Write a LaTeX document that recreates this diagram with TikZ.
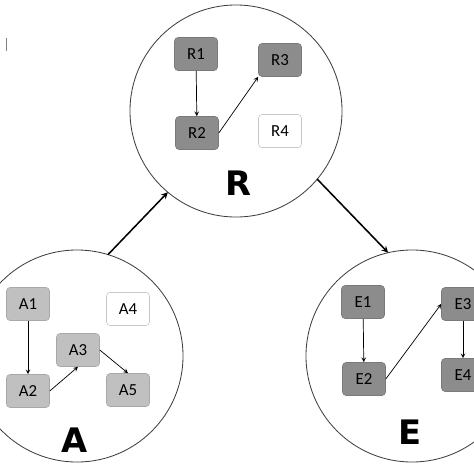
\documentclass[tikz,border=0pt]{standalone}
\usepackage{fontspec}
\setmainfont{Carlito}
\newfontfamily\clusterfont{DejaVu Sans}

\definecolor{darkfill}{HTML}{8C8C8C}
\definecolor{darkline}{HTML}{7A7A7A}
\definecolor{lightfill}{HTML}{C0C0C0}
\definecolor{lightline}{HTML}{A8A8A8}
\definecolor{emptyline}{HTML}{C8C8C8}
\definecolor{ringline}{HTML}{404040}

\begin{document}
\begin{tikzpicture}[>=stealth, x=0.025cm, y=-0.025cm,
    box/.style={rectangle, rounded corners=2.5pt, minimum width=1.075cm, minimum height=0.825cm, inner sep=0pt, font=\fontsize{12}{14}\selectfont},
    darkbox/.style={box, draw=darkline, fill=darkfill},
    lightbox/.style={box, draw=lightline, fill=lightfill},
    emptybox/.style={box, draw=emptyline, fill=white},
    ring/.style={draw=ringline, circle, line width=0.6pt, minimum size=5.3cm, inner sep=0pt, outer sep=0pt},
    clusterlabel/.style={font=\clusterfont\bfseries\fontsize{24}{28}\selectfont},
    link/.style={->, line width=0.5pt},
    biglink/.style={->, line width=1.1pt}]

    \useasboundingbox (0,0) rectangle (474,474);

    % Clusters
    \node[ring] at (236,111) (Rc) {};
    \node[ring] at (77,356) (Ac) {};
    \node[ring] at (412,356) (Ec) {};

    % Mark at top left
    \draw[gray, line width=0.8pt] (6.5,38) -- (6.5,51);

    % R cluster
    \node[darkbox] at (196,54) (R1) {R1};
    \node[darkbox] at (197,133) (R2) {R2};
    \node[darkbox] at (280,60) (R3) {R3};
    \node[emptybox] at (280,131) (R4) {R4};
    \node[clusterlabel] at (238,183) (Rl) {R};

    \draw[link] (R1) -- (R2);
    \draw[link] (R2.east) -- (R3.south west);

    % A cluster
    \node[lightbox] at (28,304) (A1) {A1};
    \node[lightbox] at (28,391) (A2) {A2};
    \node[lightbox] at (78,350) (A3) {A3};
    \node[emptybox] at (128,309) (A4) {A4};
    \node[lightbox] at (128,390) (A5) {A5};
    \node[clusterlabel] at (75,440) (Al) {A};

    \draw[link] (A1) -- (A2);
    \draw[link] (A2.east) -- (A3.south);
    \draw[link] (A3.east) -- (A5.north);

    % E cluster
    \node[darkbox] at (363,302) (E1) {E1};
    \node[darkbox] at (364,379) (E2) {E2};
    \node[darkbox] at (463,304) (E3) {E3};
    \node[darkbox] at (463,375) (E4) {E4};
    \node[clusterlabel] at (410,432) (El) {E};

    \draw[link] (E1) -- (E2);
    \draw[link] (E2.east) -- (E3.west);
    \draw[link] (E3) -- (E4);

    % Between clusters
    \draw[biglink] (Ac.73.5) -- (Rc.230);
    \draw[biglink] (Rc.-40.5) -- (Ec.103);
\end{tikzpicture}
\end{document}
